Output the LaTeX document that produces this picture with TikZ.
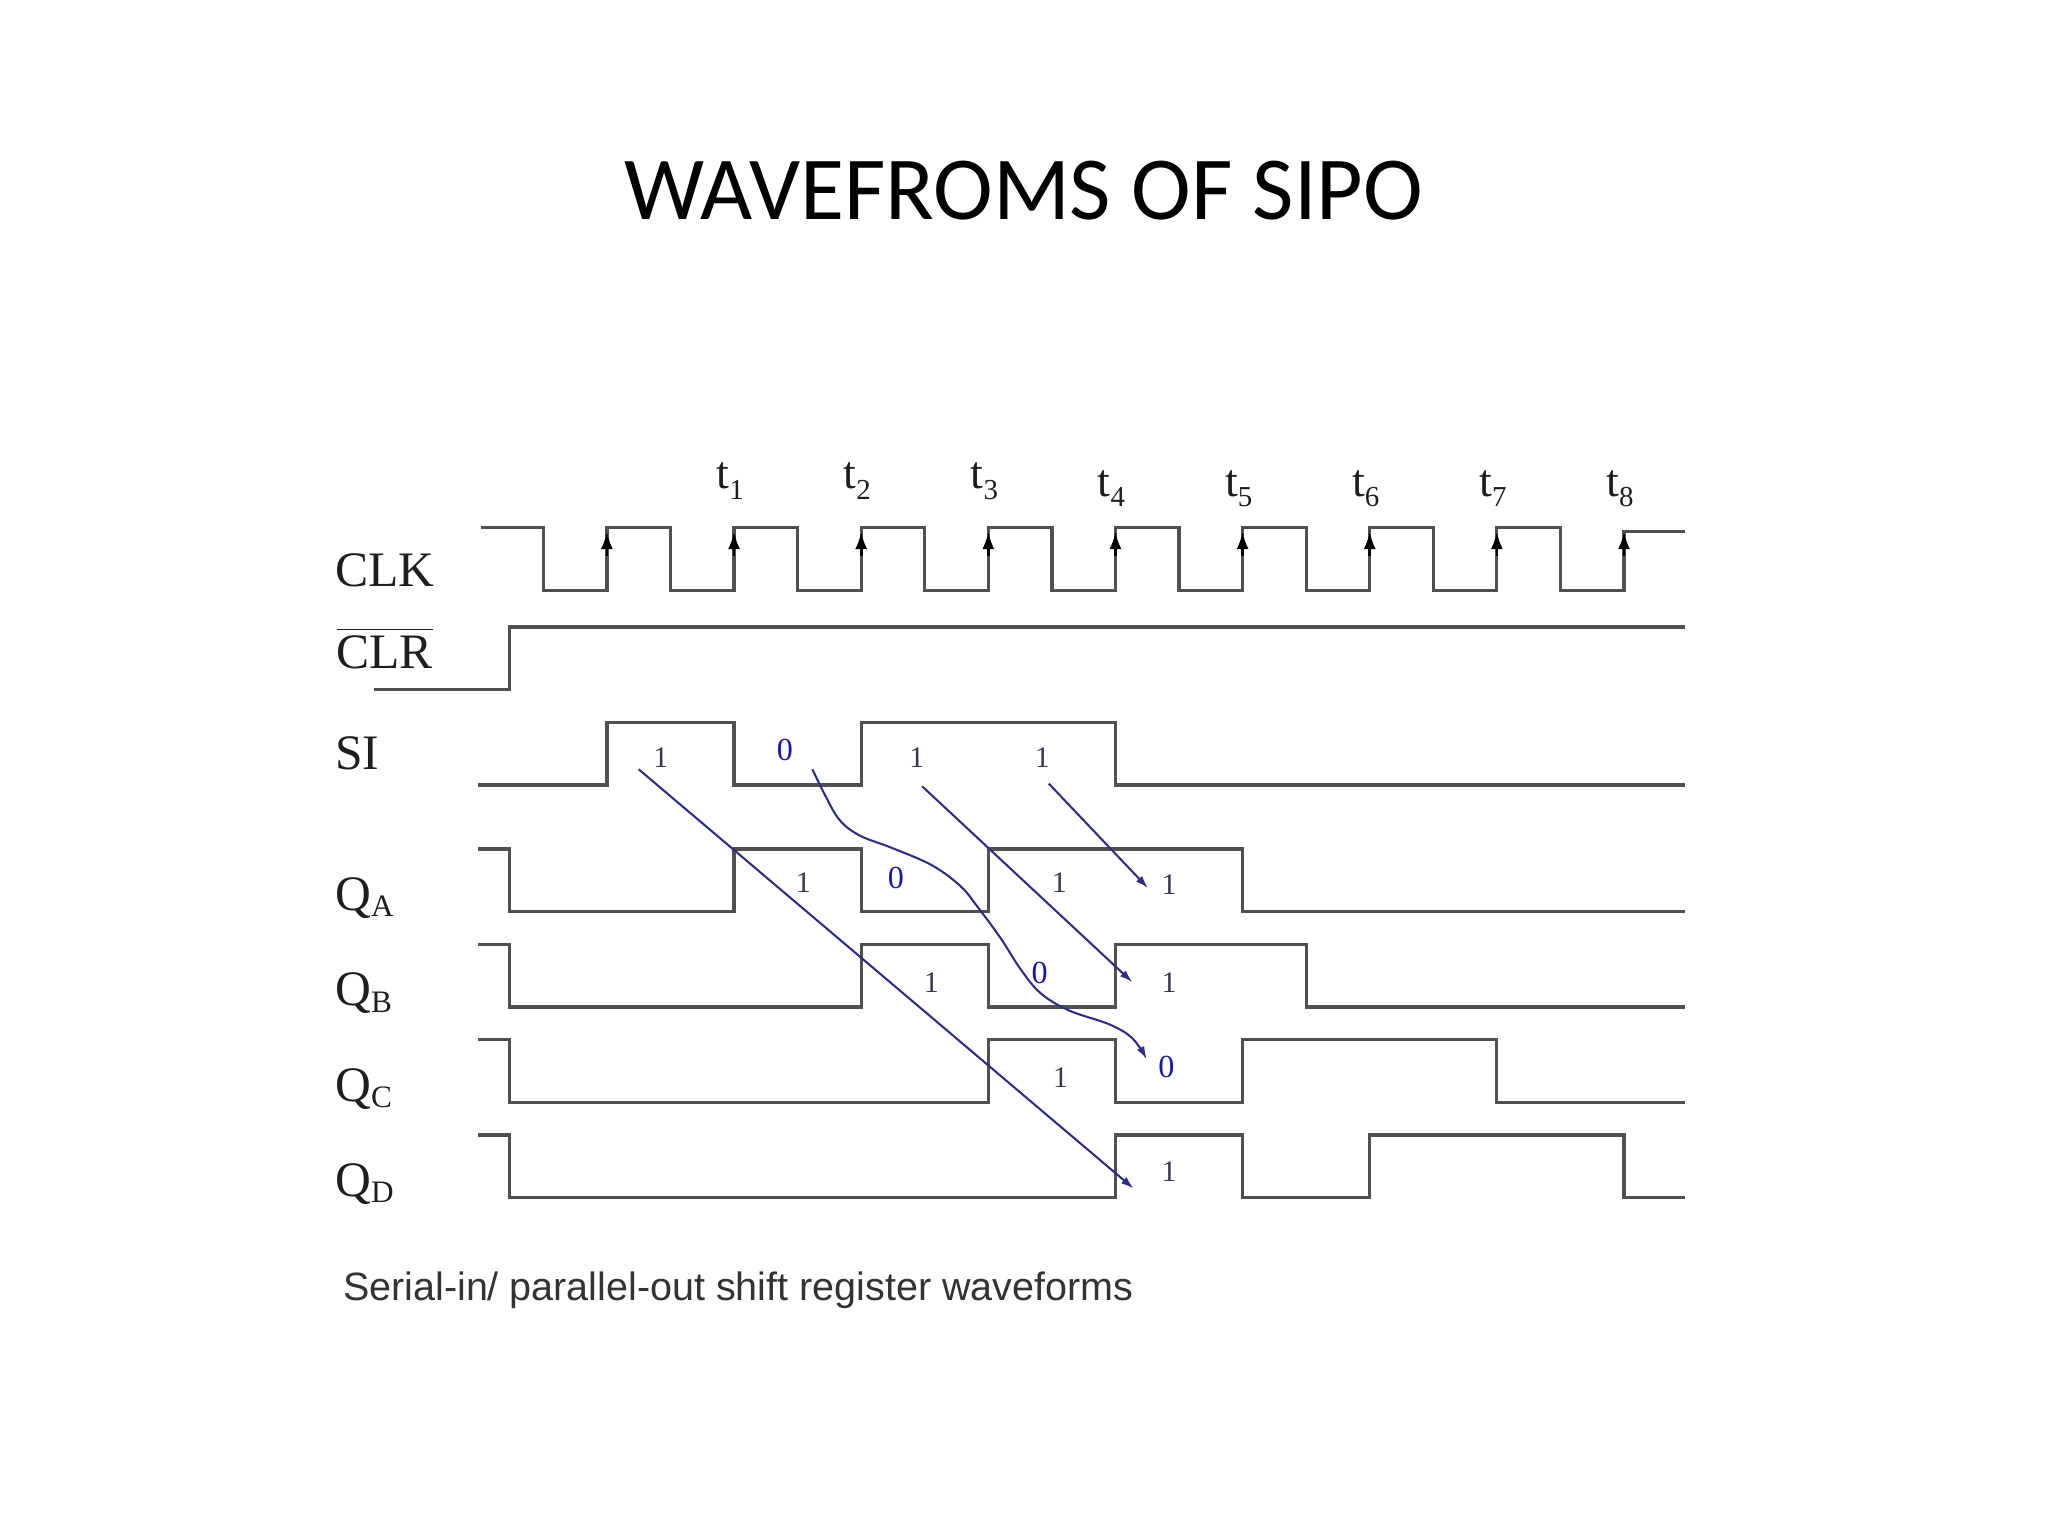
\documentclass[tikz,border=0pt]{standalone}
\usepackage{fontspec}
\setmainfont{Liberation Serif}
\newfontfamily\titlefont{Carlito}
\newfontfamily\capfont{Liberation Sans}
\usetikzlibrary{arrows.meta}

\definecolor{wavegray}{RGB}{80,80,80}
\definecolor{lblgray}{RGB}{30,30,30}
\definecolor{onecol}{RGB}{55,55,80}
\definecolor{zerocol}{RGB}{25,25,160}
\definecolor{flowcol}{RGB}{45,45,130}

\begin{document}
\begin{tikzpicture}[x=0.01cm, y=-0.01cm,
    wave/.style={draw=wavegray, line width=0.7pt},
    siglbl/.style={anchor=base west, inner sep=0pt, text=lblgray, font=\fontsize{10.8}{12}\selectfont},
    tlbl/.style={anchor=base, inner sep=0pt, text=lblgray, font=\fontsize{10}{11}\selectfont},
    bitone/.style={inner sep=0pt, text=onecol, font=\fontsize{6.5}{7}\selectfont},
    bitzero/.style={inner sep=0pt, text=zerocol, font=\fontsize{7}{8}\selectfont},
    flow/.style={draw=flowcol, line width=0.45pt, -{Latex[length=2.8pt,width=1.8pt]}},
    clkarrow/.style={draw=black, line width=0.6pt, -{Latex[length=3.8pt,width=2.6pt]}}]

  \useasboundingbox (0,0) rectangle (1568,1176);

  \node[anchor=base, inner sep=0pt, font=\titlefont\fontsize{19.6}{22}\selectfont] (title) at (784,168) {WAVEFROMS OF SIPO};

  % signal names
  \node[siglbl] (lblclk) at (256,449) {CLK};
  \node[siglbl] (lblclr) at (257,512) {$\overline{\hbox{CLR}}$};
  \node[siglbl] (lblsi) at (256,589) {SI};
  \node[siglbl] (lblqa) at (256,697) {Q\raisebox{-1.4pt}{\fontsize{6.8}{7}\selectfont A}};
  \node[siglbl] (lblqb) at (256,770) {Q\raisebox{-1.4pt}{\fontsize{6.8}{7}\selectfont B}};
  \node[siglbl] (lblqc) at (256,843) {Q\raisebox{-1.4pt}{\fontsize{6.8}{7}\selectfont C}};
  \node[siglbl] (lblqd) at (256,916) {Q\raisebox{-1.4pt}{\fontsize{6.8}{7}\selectfont D}};

  % clock
  \draw[wave] (368,404) -- (416,404)
    foreach \k in {0,...,7} { -- ++(0,48) -- ++(48.67,0) -- ++(0,-48) -- ++(48.67,0) }
    -- ++(0,48) -- ++(48.67,0) -- ++(0,-45) -- (1290,407);
  \foreach \k in {0,...,8}
    \draw[clkarrow] ({464.67+97.34*\k},426) -- ({464.67+97.34*\k},407);
  \foreach \k in {1,2,3}
    \node[tlbl] (t\k) at ({461.67+97.34*\k},374) {t\raisebox{-2.3pt}{\fontsize{6.3}{7}\selectfont\k}};
  \foreach \k in {4,...,8}
    \node[tlbl] (t\k) at ({461.67+97.34*\k},380) {t\raisebox{-2.3pt}{\fontsize{6.3}{7}\selectfont\k}};

  % clear, serial in and outputs
  \draw[wave] (286,528) -- (390,528) -- (390,480) -- (1290,480);
  \draw[wave] (366,601) -- (464.7,601) -- (464.7,553) -- (562,553) -- (562,601) -- (659.3,601)
    -- (659.3,553) -- (854,553) -- (854,601) -- (1290,601);
  \draw[wave] (366,650) -- (390,650) -- (390,698) -- (562,698) -- (562,650) -- (659.3,650)
    -- (659.3,698) -- (756.7,698) -- (756.7,650) -- (951.3,650) -- (951.3,698) -- (1290,698);
  \draw[wave] (366,723) -- (390,723) -- (390,771) -- (659.3,771) -- (659.3,723) -- (756.7,723)
    -- (756.7,771) -- (854,771) -- (854,723) -- (1000,723) -- (1000,771) -- (1290,771);
  \draw[wave] (366,796) -- (390,796) -- (390,844) -- (756.7,844) -- (756.7,796) -- (854,796)
    -- (854,844) -- (951.3,844) -- (951.3,796) -- (1146,796) -- (1146,844) -- (1290,844);
  \draw[wave] (366,869) -- (390,869) -- (390,917) -- (854,917) -- (854,869) -- (951.3,869)
    -- (951.3,917) -- (1048.7,917) -- (1048.7,869) -- (1243.4,869) -- (1243.4,917) -- (1290,917);

  % bit values
  \node[bitone] (sib1) at (506,580) {1};
  \node[bitzero] (sib2) at (601,574) {0};
  \node[bitone] (sib3) at (702,580) {1};
  \node[bitone] (sib4) at (798,580) {1};
  \node[bitone] (qab1) at (615,676) {1};
  \node[bitzero] (qab2) at (686,672) {0};
  \node[bitone] (qab3) at (811,676) {1};
  \node[bitone] (qab4) at (895,677) {1};
  \node[bitone] (qbb1) at (713,752) {1};
  \node[bitzero] (qbb2) at (796,745) {0};
  \node[bitone] (qbb3) at (895,752) {1};
  \node[bitone] (qcb1) at (812,825) {1};
  \node[bitzero] (qcb2) at (893,817) {0};
  \node[bitone] (qdb1) at (895,897) {1};

  % shifting of the bits
  \draw[flow] ([shift={(-17,9)}]sib1.center) -- ([shift={(-27,13)}]qdb1.center);
  \draw[flow] ([shift={(4,22)}]sib3.center) -- ([shift={(-28,0)}]qbb3.center);
  \draw[flow] ([shift={(5,20)}]sib4.center) -- ([shift={(-16,3)}]qab4.center);
  \coordinate (zstart) at ([shift={(21,15)}]sib2.center);
  \coordinate (zend) at ([shift={(-15,-6)}]qcb2.center);
  \draw[flow] plot[smooth, tension=0.6] coordinates {(zstart) (631.8,609) (642.8,627.8) (658.2,639.7)
    (682.4,649) (713.2,662.3) (735.1,678.2) (748.3,694.1) (765.9,718) (781.3,741.9) (796.7,760.4)
    (818.6,773.7) (849.4,784.3) (866.9,794.9) (zend)};

  \node[anchor=base west, inner sep=0pt, text=black!80, font=\capfont\fontsize{8.6}{10}\selectfont] (caption) at (262,995.5)
    {Serial-in/ parallel-out shift register waveforms};
\end{tikzpicture}
\end{document}
